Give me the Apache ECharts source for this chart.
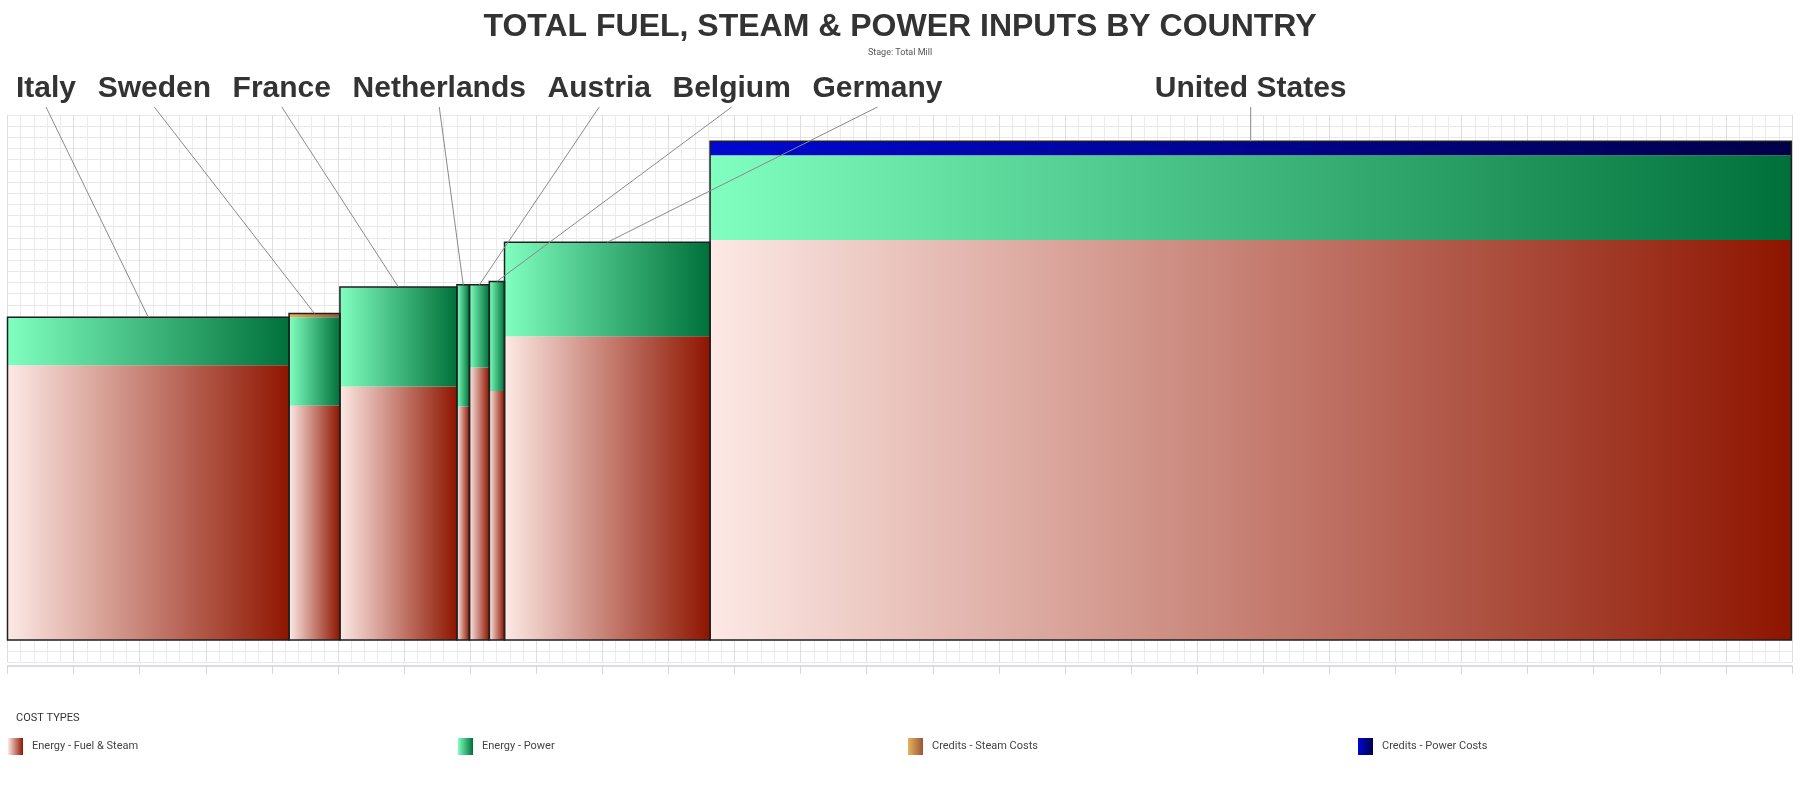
<!DOCTYPE html>
<html>
<head>
<meta charset="utf-8">
<title>Total Fuel, Steam & Power Inputs by Country</title>
<script src="https://cdn.jsdelivr.net/npm/echarts@6/dist/echarts.min.js"></script>
<style>
    html, body { margin: 0; padding: 0; background: #fff; }
    #main { width: 1800px; height: 791px; }
</style>
</head>
<body>
<div id="main"></div>
<script>
    // countries in plotting order, bar width = share along the x axis
    const countries = ['Italy', 'Sweden', 'France', 'Netherlands', 'Austria', 'Belgium', 'Germany', 'United States'];
    const countryWidths = [4.26, 0.77, 1.77, 0.19, 0.30, 0.23, 3.11, 16.36];
    // stacked cost values per country
    const fuelSteam = [246, 210, 227, 209, 244, 223, 272, 358];
    const energyPower = [43, 79, 89, 109, 74, 98, 84, 76];
    const steamCredits = [0, 3.3, 0, 0, 0, 0, 0, 0];
    const powerCredits = [0, 0, 0, 0, 0, 0, 0, 12.5];
    const costTypes = ['Energy - Fuel & Steam', 'Energy - Power', 'Credits - Steam Costs', 'Credits - Power Costs'];

    const costValues = [fuelSteam, energyPower, steamCredits, powerCredits];
    // light -> dark, left to right inside every block
    const costColors = [
        ['#fde9e5', '#8e1500'],
        ['#80ffc0', '#00703a'],
        ['#e6b45c', '#9a5538'],
        ['#0008d2', '#000048']
    ];

    function grad(c) {
        return new echarts.graphic.LinearGradient(0, 0, 1, 0, [
            { offset: 0, color: c[0] },
            { offset: 1, color: c[1] }
        ]);
    }

    // x start of every country block
    const xStart = [];
    let acc = 0;
    countryWidths.forEach(w => { xStart.push(acc); acc += w; });

    // stack the segments: [x0, x1, y0, y1]
    const segData = costTypes.map(() => []);
    const base = countries.map(() => 0);
    costValues.forEach((vals, k) => {
        countries.forEach((c, i) => {
            segData[k].push([xStart[i], xStart[i] + countryWidths[i], base[i], base[i] + vals[i]]);
            base[i] += vals[i];
        });
    });
    const outlineData = countries.map((c, i) => [xStart[i], xStart[i] + countryWidths[i], 0, base[i]]);

    function segRenderer(k) {
        return function (params, api) {
            const y0 = api.value(2), y1 = api.value(3);
            if (!(y1 > y0)) return null;
            const tl = api.coord([api.value(0), y1]);
            const br = api.coord([api.value(1), y0]);
            return {
                type: 'rect',
                shape: { x: tl[0], y: tl[1], width: br[0] - tl[0], height: br[1] - tl[1] },
                style: { fill: grad(costColors[k]) }
            };
        };
    }

    function outlineRenderer(params, api) {
        const tl = api.coord([api.value(0), api.value(3)]);
        const br = api.coord([api.value(1), api.value(2)]);
        return {
            type: 'rect',
            shape: { x: tl[0], y: tl[1], width: br[0] - tl[0], height: br[1] - tl[1] },
            style: { fill: 'none', stroke: '#202020', lineWidth: 1.5 }
        };
    }

    const series = costTypes.map((name, k) => ({
        name: name,
        type: 'custom',
        renderItem: segRenderer(k),
        itemStyle: { color: grad(costColors[k]) },
        encode: { x: [0, 1], y: [2, 3] },
        data: segData[k],
        z: 2
    }));
    series.push({
        name: 'outline',
        type: 'custom',
        renderItem: outlineRenderer,
        encode: { x: [0, 1], y: [2, 3] },
        data: outlineData,
        silent: true,
        z: 3
    });

    const myChart = echarts.init(document.getElementById('main'));
    myChart.setOption({
        animation: false,
        backgroundColor: '#fff',
        title: [
            {
                text: 'TOTAL FUEL, STEAM & POWER INPUTS BY COUNTRY',
                subtext: 'Stage: Total Mill',
                left: 'center',
                top: 6,
                itemGap: 5,
                textStyle: { fontFamily: 'Liberation Sans', fontWeight: 'bold', fontSize: 32, color: '#333' },
                subtextStyle: { fontFamily: 'Roboto', fontSize: 9, color: '#555' }
            },
            {
                text: 'COST TYPES',
                left: 11,
                top: 708,
                textStyle: { fontFamily: 'Roboto', fontWeight: 'normal', fontSize: 11, color: '#333' }
            }
        ],
        legend: costTypes.map((name, i) => ({
            data: [name],
            left: 8 + 450 * i,
            top: 738,
            padding: 0,
            icon: 'rect',
            itemWidth: 15,
            itemHeight: 17,
            selectedMode: false,
            textStyle: { fontFamily: 'Roboto', fontSize: 11, color: '#444', padding: [0, 0, 0, 4] }
        })),
        grid: { left: 7.5, right: 8, top: 115, bottom: 128.7 },
        xAxis: {
            type: 'value',
            min: 0,
            max: 27,
            interval: 1,
            offset: 3.5,
            axisLine: { show: true, onZero: false, lineStyle: { color: '#cfd0e6', width: 1.5 } },
            axisTick: { show: true, length: 8, lineStyle: { color: '#d4d4d4' } },
            axisLabel: { show: false },
            splitLine: { show: true, lineStyle: { color: '#dedede' } },
            minorTick: { show: false, splitNumber: 5 },
            minorSplitLine: { show: true, lineStyle: { color: '#ebebeb' } }
        },
        yAxis: {
            type: 'value',
            min: -20,
            max: 470,
            interval: 10,
            axisLine: { show: false },
            axisTick: { show: false },
            axisLabel: { show: false },
            splitLine: { show: true, lineStyle: { color: '#e8e8e8' } }
        },
        series: series
    });

    // country labels: centred over their block, pushed apart when they overlap
    const labelFont = 'bold 30px "Liberation Sans"';
    const ctx = document.createElement('canvas').getContext('2d');
    ctx.font = labelFont;
    const gap = 21.6, minX = 16, maxX = 1784;
    const labelY = 89, lineTop = 107;

    const items = countries.map((c, i) => {
        const top = myChart.convertToPixel({ gridIndex: 0 }, [xStart[i] + countryWidths[i] / 2, outlineData[i][3]]);
        return { text: c, w: ctx.measureText(c).width, cx: top[0], topY: top[1] };
    });

    let blocks = [];
    items.forEach((it, i) => {
        blocks.push({ idx: [i], offs: [0], width: it.w, start: it.cx - it.w / 2 });
        let done = false;
        while (!done) {
            const b = blocks[blocks.length - 1];
            b.start = Math.max(minX, Math.min(maxX - b.width, b.start));
            const p = blocks[blocks.length - 2];
            if (p && p.start + p.width + gap > b.start) {
                const shift = p.width + gap;
                b.offs.forEach((o, j) => { p.idx.push(b.idx[j]); p.offs.push(o + shift); });
                p.width = shift + b.width;
                let s = 0;
                p.idx.forEach((id, j) => { s += items[id].cx - items[id].w / 2 - p.offs[j]; });
                p.start = s / p.idx.length;
                blocks.pop();
            } else {
                done = true;
            }
        }
    });

    const graphics = [];
    blocks.forEach(b => {
        b.idx.forEach((id, j) => {
            const it = items[id];
            const lx = b.start + b.offs[j] + it.w / 2;
            graphics.push({
                type: 'text',
                x: lx,
                y: labelY,
                z: 100,
                style: {
                    text: it.text,
                    fontFamily: 'Liberation Sans',
                    fontWeight: 'bold',
                    fontSize: 30,
                    fill: '#333',
                    align: 'center',
                    verticalAlign: 'middle'
                }
            });
            graphics.push({
                type: 'line',
                z: 100,
                shape: { x1: lx, y1: lineTop, x2: it.cx, y2: it.topY },
                style: { stroke: '#8a8a8a', lineWidth: 1 }
            });
        });
    });
    myChart.setOption({ graphic: graphics });
</script>
</body>
</html>
